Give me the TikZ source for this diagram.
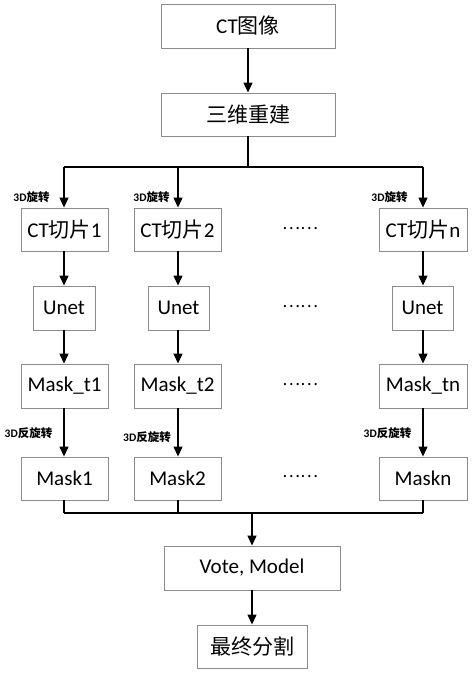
\documentclass[tikz,border=0pt]{standalone}
\usepackage{fontspec}
\setmainfont{Carlito}
\newfontfamily\cjk{Noto Sans CJK SC}
\usetikzlibrary{arrows.meta}
\newcommand{\zh}[1]{{\cjk #1}}

\begin{document}
\begin{tikzpicture}[x=1pt,y=-1pt,
  box/.style={draw=black!45,line width=0.9pt,inner sep=0pt,minimum height=43pt,font=\fontsize{21}{23}\selectfont},
  lbl/.style={inner sep=0pt,font=\fontsize{11.5}{13}\selectfont\bfseries},
  dots/.style={inner sep=0pt,font=\fontsize{17}{19}\selectfont\cjk},
  link/.style={line width=1.2pt},
  >={Triangle[length=10pt,width=9pt]}]
\useasboundingbox (0,0) rectangle (474,676);
% top of the chart
\node [box,minimum width=174pt,minimum height=44pt] (ct) at (248,26) {CT\zh{图像}};
\node [box,minimum width=174pt] (recon) at (248,114.5) {\zh{三维重建}};
\draw [link,->] (ct) -- (recon);
\coordinate (top) at (248,167);
\coordinate (b1) at (64,167);
\coordinate (b2) at (178,167);
\coordinate (bn) at (423,167);
\draw [link] (recon) -- (top);
\draw [link] (b1) -- (bn);
% slices
\node [box,minimum width=87pt] (slice1) at (64.5,229.5) {CT\zh{切片}1};
\node [box,minimum width=87pt] (slice2) at (177.5,229.5) {CT\zh{切片}2};
\node [box,minimum width=88pt] (slicen) at (423,229.5) {CT\zh{切片}n};
\draw [link,->] (b1) -- (slice1.north -| b1);
\draw [link,->] (b2) -- (slice2.north -| b2);
\draw [link,->] (bn) -- (slicen.north -| bn);
\node [lbl] (rot1) at (31.5,197) {3D\zh{旋转}};
\node [lbl] (rot2) at (151.5,197) {3D\zh{旋转}};
\node [lbl] (rotn) at (389.5,197) {3D\zh{旋转}};
% networks
\node [box,minimum width=62pt,minimum height=44pt] (unet1) at (64,308) {Unet};
\node [box,minimum width=61pt,minimum height=44pt] (unet2) at (178.5,308) {Unet};
\node [box,minimum width=61pt,minimum height=44pt] (unetn) at (422.5,308) {Unet};
\draw [link,->] (slice1.south -| unet1) -- (unet1);
\draw [link,->] (slice2.south -| b2) -- (unet2.north -| b2);
\draw [link,->] (slicen.south -| bn) -- (unetn.north -| bn);
% rotated masks
\node [box,minimum width=87pt,minimum height=44pt] (maskt1) at (64.5,386) {Mask\_t1};
\node [box,minimum width=87pt,minimum height=44pt] (maskt2) at (177.5,386) {Mask\_t2};
\node [box,minimum width=88pt,minimum height=44pt] (masktn) at (423,386) {Mask\_tn};
\draw [link,->] (unet1.south -| b1) -- (maskt1.north -| b1);
\draw [link,->] (unet2.south -| b2) -- (maskt2.north -| b2);
\draw [link,->] (unetn.south -| bn) -- (masktn.north -| bn);
% masks
\node [box,minimum width=87pt] (mask1) at (64.5,478.5) {Mask1};
\node [box,minimum width=87pt] (mask2) at (177.5,478.5) {Mask2};
\node [box,minimum width=88pt] (maskn) at (423,478.5) {Maskn};
\draw [link,->] (maskt1.south -| b1) -- (mask1.north -| b1);
\draw [link,->] (maskt2.south -| b2) -- (mask2.north -| b2);
\draw [link,->] (masktn.south -| bn) -- (maskn.north -| bn);
\node [lbl] (inv1) at (28.5,433) {3D\zh{反旋转}};
\node [lbl] (inv2) at (147,437) {3D\zh{反旋转}};
\node [lbl] (invn) at (387.5,433) {3D\zh{反旋转}};
% dots between columns
\node [dots] (d1) at (300,229) {……};
\node [dots] (d2) at (300,307) {……};
\node [dots] (d3) at (300,385) {……};
\node [dots] (d4) at (300,477) {……};
% merge
\coordinate (c1) at (64,513);
\coordinate (c2) at (178,513);
\coordinate (cn) at (423,513);
\coordinate (cm) at (252,513);
\draw [link] (mask1.south -| c1) -- (c1);
\draw [link] (mask2.south -| c2) -- (c2);
\draw [link] (maskn.south -| cn) -- (cn);
\draw [link] (c1) -- (cn);
\node [box,minimum width=176pt,minimum height=44pt] (vote) at (252,568) {Vote, Model};
\node [box,minimum width=110pt] (final) at (252,646.5) {\zh{最终分割}};
\draw [link,->] (cm) -- (vote);
\draw [link,->] (vote) -- (final);
\end{tikzpicture}
\end{document}
